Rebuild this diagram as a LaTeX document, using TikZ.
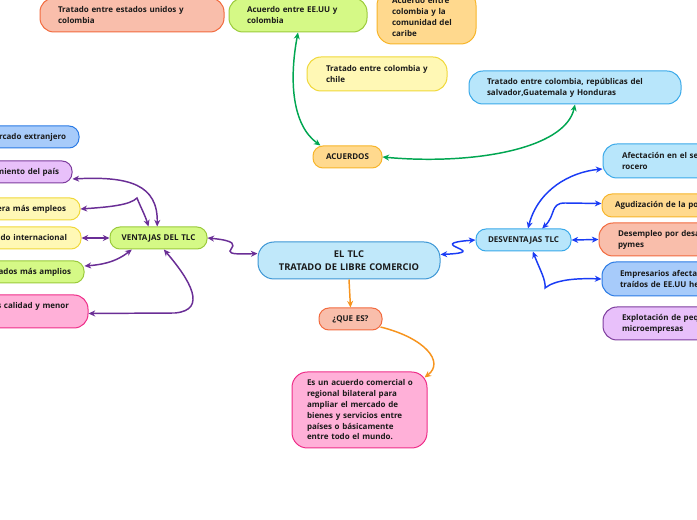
\documentclass[tikz,border=0pt]{standalone}
\usepackage{fontspec}
\setmainfont{Open Sans}
\usetikzlibrary{arrows.meta,calc}
\definecolor{salF}{HTML}{F9BEAB}\definecolor{salD}{HTML}{F26B3F}
\definecolor{grnF}{HTML}{D5F986}\definecolor{grnD}{HTML}{9BCB3C}
\definecolor{oraF}{HTML}{FFD98E}\definecolor{oraD}{HTML}{F7B52A}
\definecolor{yelF}{HTML}{FFF8B5}\definecolor{yelD}{HTML}{F0D83A}
\definecolor{lbluF}{HTML}{B8E6FB}\definecolor{lbluD}{HTML}{3AA9E9}
\definecolor{cbluF}{HTML}{C0E8FA}\definecolor{cbluD}{HTML}{3C96D5}
\definecolor{bluF}{HTML}{A7CBFA}\definecolor{bluD}{HTML}{2B7BE5}
\definecolor{purF}{HTML}{E8C0FA}\definecolor{purD}{HTML}{7E3D9E}
\definecolor{pnkF}{HTML}{FFB0D8}\definecolor{pnkD}{HTML}{EF2E89}
\definecolor{txt}{HTML}{1A1A1A}
\definecolor{cG}{HTML}{00A651}\definecolor{cP}{HTML}{6A2E96}
\definecolor{cB}{HTML}{1A3CF5}\definecolor{cO}{HTML}{F7941E}
\newcommand\nfont{\fontsize{6pt}{8.1pt}\selectfont\bfseries}
\newcommand\cfont{\fontsize{7pt}{9.75pt}\selectfont\bfseries}
\newcommand\boxnode[8]{%
 \pgfmathsetmacro\bxw{(#4-2*#6)*0.75}%
 \pgfmathsetmacro\bxW{#4*0.75}%
 \pgfmathsetmacro\bxH{#5*0.75}%
 \pgfmathsetmacro\bxp{#6*0.75}%
 \node[box,#7,minimum width=\bxW pt,minimum height=\bxH pt,text width=\bxw pt,inner xsep=\bxp pt] (#1) at (#2,#3) {#8};}
\tikzset{
 box/.style={draw,line width=0.75pt,align=left,font=\nfont,text=txt,inner ysep=0pt},
 rc/.style={rounded corners=10.5pt},
 rs/.style={rounded corners=7.5pt},
 rl/.style={rounded corners=11.5pt},
 salmon/.style={fill=salF,draw=salD},
 green/.style={fill=grnF,draw=grnD},
 orange/.style={fill=oraF,draw=oraD},
 yellow/.style={fill=yelF,draw=yelD},
 lblue/.style={fill=lbluF,draw=lbluD},
 cblue/.style={fill=cbluF,draw=cbluD},
 blue/.style={fill=bluF,draw=bluD},
 purple/.style={fill=purF,draw=purD},
 pink/.style={fill=pnkF,draw=pnkD},
 conn/.style={line width=1.1pt},
 cg/.style={conn,draw=cG},
 cp/.style={conn,draw=cP},
 cb/.style={conn,draw=cB},
 co/.style={conn,draw=cO},
}
\begin{document}
\begin{tikzpicture}[x=0.75pt,y=-0.75pt,>={Stealth[length=5pt,width=4.5pt]}]
\useasboundingbox (0,0) rectangle (697,520);
\fill[white] (0,0) rectangle (697,520);
% top
\boxnode{teeuu}{132}{15}{184}{34}{18}{salmon,rc}{Tratado entre estados unidos y\\colombia}
\boxnode{aeeuu}{298}{15}{138}{34}{18}{green,rc}{Acuerdo entre EE.UU y\\colombia}
\boxnode{caribe}{426.5}{17}{99}{54}{15}{orange,rl}{Acuerdo entre\\colombia y la\\comunidad del\\caribe}
\boxnode{chile}{377}{74}{140}{34}{19}{yellow,rc}{Tratado entre colombia y\\chile}
\boxnode{honduras}{575}{87.5}{212}{33}{18}{lblue,rc}{Tratado entre colombia, repúblicas del\\salvador,Guatemala y Honduras}
\boxnode{acuerdos}{347.5}{157}{69}{22}{4}{orange,rs,align=center}{ACUERDOS}
% centre
\boxnode{center}{349}{260.5}{182}{37}{6}{cblue,rounded corners=12pt,align=center,font=\cfont}{EL TLC\\TRATADO DE LIBRE COMERCIO}
\boxnode{quees}{350.5}{319}{63}{22}{4}{salmon,rs,align=center}{¿QUE ES?}
\boxnode{def}{359.5}{410}{135}{76}{15}{pink,rl}{\mbox{Es un acuerdo comercial o}\\regional bilateral para\\ampliar el mercado de\\bienes y servicios entre\\países o básicamente\\entre todo el mundo.}
% right
\boxnode{desv}{523.5}{240}{95}{22}{4}{lblue,rs,align=center}{DESVENTAJAS TLC}
\boxnode{afect}{726.5}{161}{247}{34}{19}{lblue,rc}{Afectación en el sector ar\\rocero}
\boxnode{agud}{726}{205.5}{248}{23}{13}{orange,rs}{Agudización de la pobreza}
\boxnode{desemp}{724.5}{239.5}{251}{33}{19}{salmon,rc}{Desempleo por desaparición de\\pymes}
\boxnode{empres}{726}{279}{248}{34}{18}{blue,rc}{Empresarios afectados por productos\\traídos de EE.UU hechos}
\boxnode{explot}{726.5}{323.5}{247}{33}{19}{purple,rc}{Explotación de pequeñas y\\microempresas}
% left
\boxnode{ventajas}{158.5}{238}{97}{22}{4}{green,rs,align=center}{VENTAJAS DEL TLC}
\boxnode{mercado}{-35.5}{137}{229}{22}{13}{blue,rs,align=right}{Acceso al mercado extranjero}
\boxnode{crecim}{-39}{172}{222}{22}{13}{purple,rs,align=right}{Crecimiento del país}
\boxnode{empleos}{-35}{209}{230}{22}{14}{yellow,rs,align=right}{Genera más empleos}
\boxnode{internac}{-34.5}{238}{231}{22}{14}{yellow,rs,align=right}{Acceso al mercado internacional}
\boxnode{amplios}{-33}{272}{234}{22}{13}{green,rs,align=right}{Mercados más amplios}
\boxnode{calidad}{-31}{311.5}{238}{33}{19}{pink,rc,align=right}{\begin{tabular}{@{}l@{}}Productos de más calidad y menor\\precio\end{tabular}}
% green connectors
\draw[cg,<->] (aeeuu.south) .. controls (289,80) and (292,125) .. ([xshift=6pt]acuerdos.north west);
\draw[cg,<->] (acuerdos.east) .. controls (470,165) and (565,150) .. (honduras.south);
% blue connectors
\draw[cb,<->] ($(center.east)+(0,-6)$) .. controls (495,252) and (420,244) .. (desv.west);
\draw[cb,<->] ([xshift=3.4pt]desv.north) .. controls (538,190) and (570,172) .. ($(afect.west)+(0,8)$);
\draw[cb,<->] ([xshift=14pt]desv.north) .. controls (556,215) and (550,203) .. (565,203) -- ($(agud.west)+(0,-2)$);
\draw[cb,<->] (desv.east) -- (desemp.west);
\draw[cb,<->] ([xshift=7pt]desv.south) .. controls (540,270) and (546,280) .. (545,288) .. controls (555,280) and (575,278) .. (empres.west);
% purple connectors
\draw[cp,<->] (ventajas.east) .. controls (262,243) and (200,256) .. ($(center.west)+(0,-7)$);
\draw[cp,<->] ($(crecim.east)+(0,7)$) .. controls (130,176) and (158,185) .. ([xshift=-1pt]ventajas.north);
\draw[cp,<->] (empleos.east) .. controls (110,207) and (130,205) .. (137,198) .. controls (141,208) and (145,215) .. ([xshift=-7.5pt]ventajas.north);
\draw[cp,<->] (ventajas.west) -- (internac.east);
\draw[cp,<->] ([xshift=-20pt]ventajas.south) .. controls (122,257) and (112,264) .. ($(amplios.east)+(0,-6)$);
\draw[cp,<->] ([xshift=4pt]ventajas.south) .. controls (190,280) and (208,310) .. (175,313) -- ($(calidad.east)+(0,2)$);
% orange connectors
\draw[co,->] (center.south) -- (quees.north);
\draw[co,->] ($(quees.east)+(-2,8)$) .. controls (425,338) and (445,362) .. ($(def.north east)+(-3,6)$);
\end{tikzpicture}
\end{document}
